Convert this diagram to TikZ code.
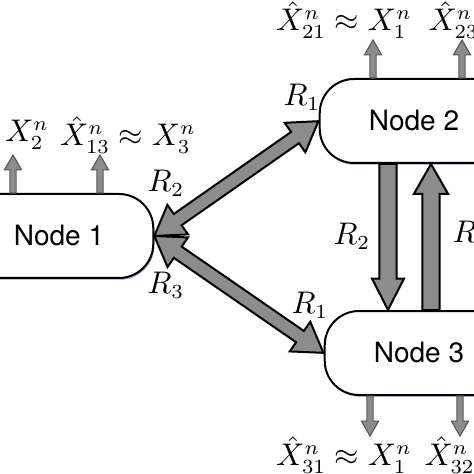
\documentclass[tikz,border=0pt]{standalone}
\usepackage{amsmath}
\usepackage{fontspec}
\setsansfont{TeX Gyre Heros}
\usetikzlibrary{calc,shadows}
\definecolor{ArrGray}{HTML}{8C8C8C}
\definecolor{ShadowLila}{HTML}{6A4FD0}

\newcommand\twoway[5]{%
  \path[fatline] let \p1=(#1), \p2=(#2), \n1={atan2(\y2-\y1,\x2-\x1)}, \n2={veclen(\x2-\x1,\y2-\y1)} in
    [shift={(\p1)}, rotate=\n1]
    (0pt,0pt) -- (#5,#4) -- (#5,#3) -- ({\n2-#5},#3) -- ({\n2-#5},#4) -- ({\n2},0pt)
    -- ({\n2-#5},-#4) -- ({\n2-#5},-#3) -- (#5,-#3) -- (#5,-#4) -- cycle;}
\newcommand\oneway[6][fatline]{%
  \path[#1] let \p1=(#2), \p2=(#3), \n1={atan2(\y2-\y1,\x2-\x1)}, \n2={veclen(\x2-\x1,\y2-\y1)} in
    [shift={(\p1)}, rotate=\n1]
    (0pt,#4) -- ({\n2-#6},#4) -- ({\n2-#6},#5) -- ({\n2},0pt)
    -- ({\n2-#6},-#5) -- ({\n2-#6},-#4) -- (0pt,-#4) -- cycle;}

\begin{document}
\begin{tikzpicture}[x=0.35pt,y=-0.35pt,
    term/.style={draw,line width=0.7pt,rounded corners=12pt,minimum width=66pt,minimum height=29.4pt,
      fill=white,font=\sffamily\fontsize{9.8}{11}\selectfont,
      drop shadow={shadow xshift=0.4pt,shadow yshift=-0.6pt,fill=ShadowLila,opacity=0.6}},
    fatline/.style={draw=black,fill=ArrGray,line width=0.7pt,line join=miter},
    thinline/.style={draw=black!65,fill=ArrGray,line width=0.4pt,line join=miter},
    lbl/.style={inner sep=0pt,font=\fontsize{10.6}{12}\selectfont}]
  \useasboundingbox (0,0) rectangle (474,474);
  \clip (0,0) rectangle (474,474);

  \node[term] (n1) at (59,236) {Node 1};
  \node[term] (n2) at (414,121) {Node 2};
  \node[term] (n3) at (419,353) {Node 3};

  \coordinate (o11) at (13,155);
  \coordinate (o13) at (100,155);
  \coordinate (o21) at (373,40);
  \coordinate (o23) at (462,40);
  \coordinate (o31) at (370,436);
  \coordinate (o32) at (460,436);
  \coordinate (down) at (388,0);
  \coordinate (up) at (431,0);

  \twoway{n1.east}{n2.west}{2.4pt}{6.3pt}{10pt}
  \twoway{n1.east}{n3.west}{2.4pt}{6.3pt}{10pt}
  \oneway{down |- n2.south}{down |- n3.north}{3pt}{5.6pt}{11pt}
  \oneway{up |- n3.north}{up |- n2.south}{3pt}{6pt}{10.5pt}

  \oneway[thinline]{o11 |- n1.north}{o11}{1.1pt}{3pt}{5.2pt}
  \oneway[thinline]{o13 |- n1.north}{o13}{1.1pt}{3pt}{5.2pt}
  \oneway[thinline]{o21 |- n2.north}{o21}{1.1pt}{3pt}{5.2pt}
  \oneway[thinline]{o23 |- n2.north}{o23}{1.1pt}{3pt}{5.2pt}
  \oneway[thinline]{o31 |- n3.south}{o31}{1.1pt}{3pt}{5.2pt}
  \oneway[thinline]{o32 |- n3.south}{o32}{1.1pt}{3pt}{5.2pt}

  \node[lbl] (x12) at (27,135) {$X_2^n$};
  \node[lbl] (x13) at (128,135) {$\hat{X}_{13}^n\approx X_3^n$};
  \node[lbl] (r12) at (166,183) {$R_2$};
  \node[lbl] (r13) at (166,285) {$R_3$};
  \node[lbl] (r21) at (302,97) {$R_1$};
  \node[lbl] (x21) at (344,20) {$\hat{X}_{21}^n\approx X_1^n$};
  \node[lbl,anchor=west] (x23) at (428,20) {$\hat{X}_{23}^n$};
  \node[lbl] (r31) at (310,305) {$R_1$};
  \node[lbl] (r2v) at (352,236) {$R_2$};
  \node[lbl,anchor=west] (r3v) at (452,234) {$R_3$};
  \node[lbl] (x31) at (344,455) {$\hat{X}_{31}^n\approx X_1^n$};
  \node[lbl,anchor=west] (x32) at (424,455) {$\hat{X}_{32}^n$};
\end{tikzpicture}
\end{document}
